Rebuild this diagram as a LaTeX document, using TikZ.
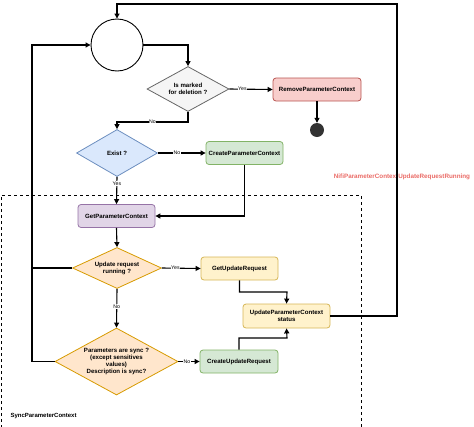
\documentclass[tikz,border=0pt]{standalone}
\usepackage{fontspec}
\setmainfont{Liberation Sans}
\usetikzlibrary{shapes.geometric,arrows.meta}
\definecolor{grayf}{HTML}{F5F5F5}\definecolor{grays}{HTML}{666666}
\definecolor{redf}{HTML}{F8CECC}\definecolor{reds}{HTML}{B85450}
\definecolor{bluef}{HTML}{DAE8FC}\definecolor{blues}{HTML}{6C8EBF}
\definecolor{greenf}{HTML}{D5E8D4}\definecolor{greens}{HTML}{82B366}
\definecolor{purpf}{HTML}{E1D5E7}\definecolor{purps}{HTML}{9673A6}
\definecolor{orf}{HTML}{FFE6CC}\definecolor{ors}{HTML}{D79B00}
\definecolor{yelf}{HTML}{FFF2CC}\definecolor{yels}{HTML}{D6B656}
\definecolor{redtxt}{HTML}{EA6B66}
\tikzset{
  box/.style={draw, rounded corners=3pt, line width=0.8pt, inner sep=0pt, font=\fontsize{6.1}{7}\selectfont\bfseries, align=center},
  dia/.style={draw, diamond, aspect=1.8, inner sep=0pt, line width=0.8pt, font=\fontsize{6.1}{7}\selectfont\bfseries, align=center},
  conn/.style={line width=1.1pt, -{Triangle[length=5pt,width=5pt]}},
  plain/.style={line width=1.1pt},
  lbl/.style={fill=white, inner sep=0.5pt, font=\fontsize{5.2}{5.5}\selectfont}
}
\begin{document}
\begin{tikzpicture}[x=1pt,y=-1pt]
\useasboundingbox (0,0) rectangle (474,426);
% dashed region
\draw[dashed, line width=0.9pt] (1,440) -- (1,195) -- (361,195) -- (361,440);
\node[anchor=west, font=\fontsize{6}{6.5}\selectfont\bfseries] (sync) at (7,416) {SyncParameterContext};
% nodes
\node[draw, circle, minimum size=52pt, line width=0.9pt, fill=white] (start) at (117,45) {};
\node[dia, fill=grayf, draw=grays, minimum width=82pt, minimum height=45pt] (del) at (188,89) {Is marked\\for deletion ?};
\node[box, fill=redf, draw=reds, minimum width=88pt, minimum height=23pt] (rem) at (317,89.5) {RemoveParameterContext};
\node[circle, fill=black!80, minimum size=14pt, inner sep=0pt] (end) at (317,130) {};
\node[dia, fill=bluef, draw=blues, minimum width=81pt, minimum height=47pt] (exist) at (117,153) {Exist ?};
\node[box, fill=greenf, draw=greens, minimum width=77pt, minimum height=23pt] (create) at (244.5,153) {CreateParameterContext};
\node[box, fill=purpf, draw=purps, minimum width=77pt, minimum height=23pt] (get) at (116.5,216) {GetParameterContext};
\node[dia, fill=orf, draw=ors, minimum width=89pt, minimum height=41pt] (running) at (117,268) {Update request\\running ?};
\node[box, fill=yelf, draw=yels, minimum width=77pt, minimum height=23pt] (getup) at (239.5,268.5) {GetUpdateRequest};
\node[box, fill=yelf, draw=yels, minimum width=87pt, minimum height=24pt] (status) at (286.5,316) {UpdateParameterContext\\status};
\node[dia, fill=orf, draw=ors, minimum width=123pt, minimum height=67pt] (sync2) at (116.5,361.5) {Parameters are sync ?\\(except sensitives\\values)\\Description is sync?};
\node[box, fill=greenf, draw=greens, minimum width=78pt, minimum height=23pt] (createup) at (239,361.5) {CreateUpdateRequest};
\node[font=\fontsize{6.3}{7}\selectfont\bfseries, text=redtxt, inner sep=0pt] (nifi) at (402,177) {NifiParameterContextUpdateRequestRunning};
% connectors
\draw[conn] (start.east) -| (del.north);
\draw[conn] (del.east) -- node[lbl, pos=0.3]{Yes} (rem.west);
\draw[conn] (rem.south) -- (end.north);
\draw[conn] (del.south) |- node[lbl, pos=0.75]{No} (117,122) -- (exist.north);
\draw[conn] (exist.east) -- node[lbl, pos=0.4]{No} (create.west);
\draw[conn] (create.south) |- (get.east);
\draw[conn] (exist.south) -- node[lbl, pos=0.25]{Yes} (get.north);
\draw[conn] (get.south) -- (running.north);
\draw[conn] (running.east) -- node[lbl, pos=0.35]{Yes} (getup.west);
\draw[conn] (running.south) -- node[lbl, pos=0.45]{No} (sync2.north);
\draw[conn] (sync2.east) -- node[lbl, pos=0.4]{No} (createup.west);
\draw[conn] (getup.south) |- (287,292) -- (status.north);
\draw[conn] (createup.north) |- (287,338) -- (status.south);
\draw[conn] (status.east) -- (397,316) -- (397,4) -| (start.north);
\draw[plain] (running.west) -- (32,268);
\draw[conn] (sync2.west) -- (32,361.5) -- (32,45) -- (start.west);
\end{tikzpicture}
\end{document}
